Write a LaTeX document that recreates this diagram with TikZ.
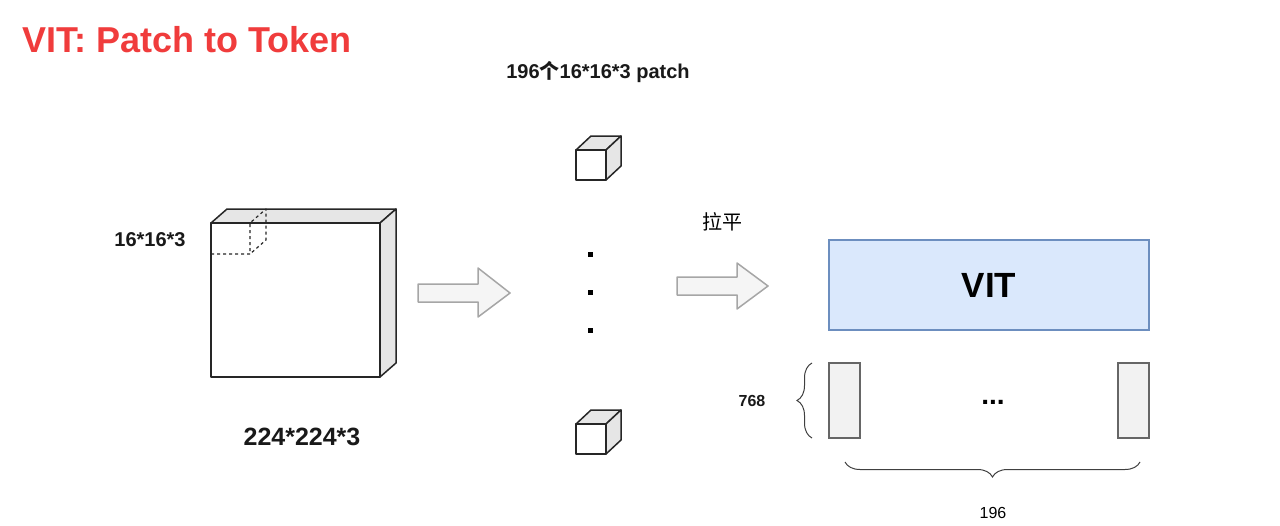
\documentclass[tikz,border=0pt]{standalone}
\usepackage{fontspec}
\setmainfont{Liberation Sans}
\newfontfamily\cjk{Noto Sans CJK SC}
\usetikzlibrary{decorations.pathreplacing}
\definecolor{vitfill}{HTML}{DAE8FC}
\definecolor{vitline}{HTML}{6C8EBF}
\definecolor{side}{HTML}{E6E6E6}
\definecolor{titlered}{HTML}{F03C3C}
\tikzset{
  edge/.style={draw=black!85, line width=1.5pt, line join=round},
  bigarrow/.style={draw=gray!70, fill=gray!8, line width=1.5pt, line join=round},
  token/.style={draw=gray!80!black, fill=gray!10, line width=1.2pt},
  lbl/.style={font=\bfseries, text=black!90},
  brace/.style={draw=black!75, line width=1pt, decorate, decoration={brace, amplitude=15pt}}
}
\begin{document}
\begin{tikzpicture}[x=1pt,y=-1pt]
\useasboundingbox (0,0) rectangle (1280,525);
\node[font=\bfseries\fontsize{36}{40}\selectfont, text=titlered, anchor=west] (title) at (19,40) {VIT: Patch to Token};
\node[lbl, font=\bfseries\fontsize{20}{22}\selectfont] (np) at (598,72) {196{\cjk 个}16*16*3 patch};
% big cube
\draw[edge, fill=side] (211,223) -- (227,209) -- (396,209) -- (380,223) -- cycle;
\draw[edge, fill=side] (380,223) -- (396,209) -- (396,363) -- (380,377) -- cycle;
\draw[edge, fill=white] (211,223) rectangle (380,377);
\draw[edge, dashed, line width=1.2pt] (211,254) -- (250,254) -- (250,223) -- (266,209) -- (266,240) -- (250,254);
\node[lbl, font=\bfseries\fontsize{20}{22}\selectfont] (pl) at (150,240) {16*16*3};
\node[lbl, font=\bfseries\fontsize{25}{28}\selectfont] (il) at (302,437) {224*224*3};
% arrows
\draw[bigarrow] (418,284) -- (478,284) -- (478,268) -- (510,293) -- (478,317) -- (478,302) -- (418,302) -- cycle;
\draw[bigarrow] (677,277) -- (737,277) -- (737,263) -- (768,286) -- (737,309) -- (737,295) -- (677,295) -- cycle;
\node[font=\cjk\fontsize{20}{22}\selectfont] (fl) at (722,222) {拉平};
% small cubes
\foreach \y in {150,424}{
  \draw[edge, fill=side] (576,\y) -- (591,\y-14) -- (621,\y-14) -- (606,\y) -- cycle;
  \draw[edge, fill=side] (606,\y) -- (621,\y-14) -- (621,\y+16) -- (606,\y+30) -- cycle;
  \draw[edge, fill=white] (576,\y) rectangle (606,\y+30);
}
\foreach \y in {254,292,330} \fill (587.5,\y-2.5) rectangle (592.5,\y+2.5);
% VIT
\node[draw=vitline, fill=vitfill, line width=1.2pt, minimum width=320, minimum height=90, inner sep=0, font=\bfseries\fontsize{35}{38}\selectfont] (vit) at (989,285) {VIT};
\node[token, minimum width=31, minimum height=75, inner sep=0] (t1) at (844.5,400.5) {};
\node[token, minimum width=31, minimum height=75, inner sep=0] (t2) at (1133.5,400.5) {};
\node[font=\bfseries\fontsize{28}{30}\selectfont] (dots) at (993,402) {...};
\coordinate (b1) at (812,438); \coordinate (b2) at (812,363);
\draw[brace] (b1) -- (b2);
\node[lbl, font=\bfseries\fontsize{16}{18}\selectfont] (l768) at (752,401) {768};
\coordinate (c1) at (1140,462); \coordinate (c2) at (845,462);
\draw[brace] (c1) -- (c2);
\node[font=\fontsize{16}{18}\selectfont] (l196) at (993,513) {196};
\end{tikzpicture}
\end{document}
